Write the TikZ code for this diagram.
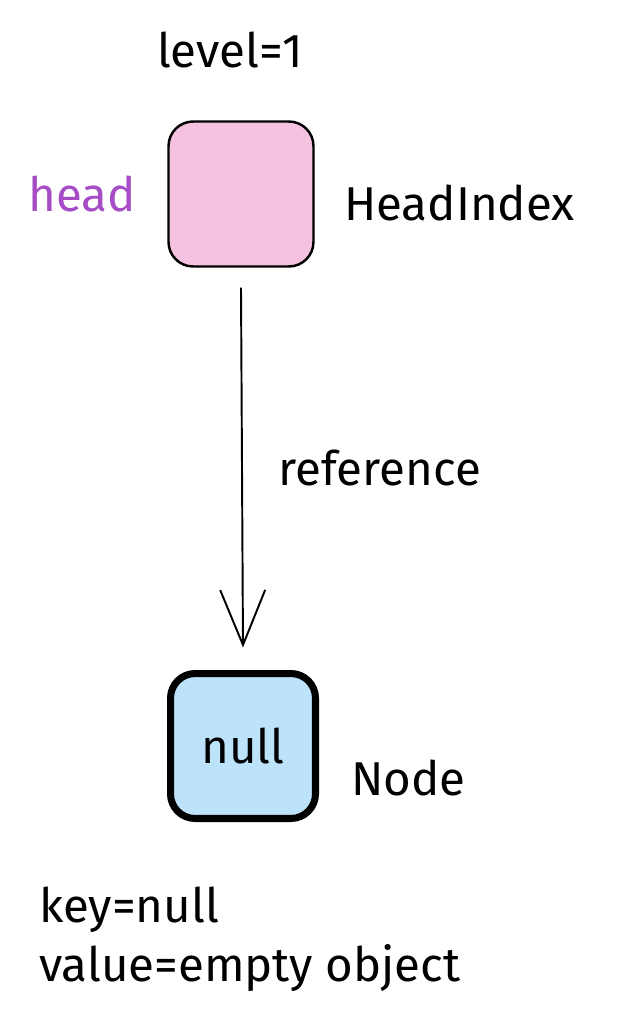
\documentclass[tikz,border=0pt]{standalone}
\usepackage{fontspec}
\setmainfont{Fira Sans}
\usetikzlibrary{positioning,arrows.meta}
\definecolor{headpink}{HTML}{F5C2DF}
\definecolor{nodeblue}{HTML}{BDE3FA}
\definecolor{headpurple}{HTML}{A64CC6}

\begin{document}
\begin{tikzpicture}[
	x=0.02cm, y=-0.02cm,
	box/.style={draw=black, rounded corners=14pt, minimum size=2.9cm, inner sep=0pt},
	label text/.style={font=\fontsize{27}{32}\selectfont},
	ref arrow/.style={line width=1.1pt, -{Straight Barb[length=1.1cm, width=0.9cm, line width=1.1pt]}},
	every node/.style={color=black}
	]
	\useasboundingbox (0,0) rectangle (617,1025);
	% boxes
	\node[box, fill=headpink, line width=1.4pt] (headidx) at (241,194) {};
	\node[box, fill=nodeblue, line width=4pt, label text] (nullnode) at (243,746) {null};
	% texts
	\node[label text] (level) at (230,50) {level=1};
	\node[label text, text=headpurple, left=0.5cm of headidx] (head) {head};
	\node[label text, anchor=west] (hname) at (338,203) {HeadIndex};
	\node[label text, anchor=west] (ntype) at (345,778) {Node};
	\node[label text, anchor=west] (key) at (33,910) {key=null};
	\node[label text, anchor=west] (val) at (33,968) {value=empty object};
	% arrow
	\draw[ref arrow] ([yshift=-0.4cm]headidx.south) -- ([yshift=0.45cm]nullnode.north)
	node[midway, right=0.6cm, label text] (reflabel) {reference};
\end{tikzpicture}
\end{document}
